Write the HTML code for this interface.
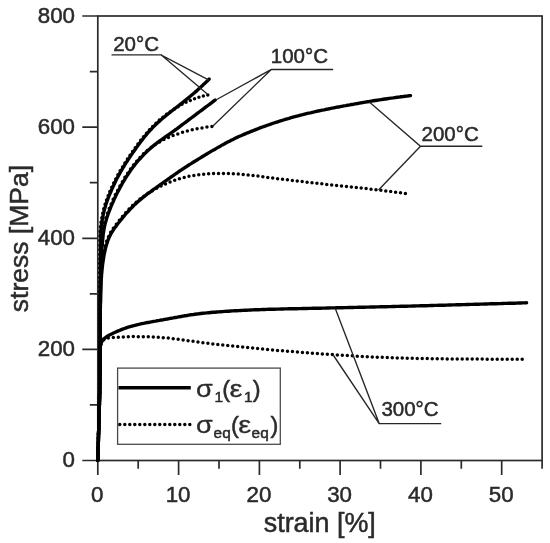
<!DOCTYPE html>
<html lang="en"><head><meta charset="utf-8"><title>Stress-strain curves</title>
<style>html,body{margin:0;padding:0;background:#fff}svg{display:block}</style></head>
<body>
<svg width="550" height="543" viewBox="0 0 550 543">
<defs><filter id="soft" x="0" y="0" width="550" height="543" filterUnits="userSpaceOnUse"><feGaussianBlur stdDeviation="0.45"/></filter></defs>
<rect width="550" height="543" fill="#fff"/>
<g filter="url(#soft)">
<rect width="550" height="543" fill="#fff"/>
<g fill="none" stroke="#2c2c2c" stroke-width="1.7">
<rect x="97.8" y="16.0" width="444.3" height="444.5"/>
<path d="M82.3 460.5h15.5M89.8 404.9h8.0M82.3 349.4h15.5M89.8 293.8h8.0M82.3 238.3h15.5M89.8 182.7h8.0M82.3 127.1h15.5M89.8 71.6h8.0M82.3 16.0h15.5M97.8 460.5v14.5M138.2 460.5v8.2M178.6 460.5v14.5M219.0 460.5v8.2M259.4 460.5v14.5M299.8 460.5v8.2M340.1 460.5v14.5M380.5 460.5v8.2M420.9 460.5v14.5M461.3 460.5v8.2M501.7 460.5v14.5M542.1 460.5v8.2"/>
</g>
<g fill="none" stroke="#050505" stroke-width="3.4" stroke-linecap="round" stroke-linejoin="round">
<path d="M97.8 460.4 L97.9 458.4 L97.9 456.4 L98.0 454.4 L98.0 452.4 L98.1 450.4 L98.1 448.4 L98.2 446.4 L98.3 444.4 L98.3 442.4 L98.4 440.4 L98.4 438.4 L98.5 436.4 L98.5 434.4 L98.6 432.4 L98.7 430.4 L98.7 428.4 L98.8 426.4 L98.8 424.4 L98.9 422.4 L98.9 420.4 L99.0 418.4 L99.0 416.4 L99.1 414.4 L99.2 412.4 L99.2 410.4 L99.3 408.4 L99.3 406.4 L99.4 404.4 L99.4 402.4 L99.5 400.4 L99.5 398.4 L99.6 396.4 L99.6 394.4 L99.7 392.4 L99.7 390.4 L99.7 388.4 L99.7 386.4 L99.8 384.4 L99.8 382.4 L99.8 380.4 L99.8 378.4 L99.9 376.4 L99.9 374.4 L99.9 372.4 L99.9 370.4 L100.0 368.4 L100.0 366.4 L100.0 364.4 L100.0 362.4 L100.0 360.4 L100.0 358.4 L100.1 356.4 L100.1 354.4 L100.1 352.4 L100.1 350.4 L100.1 348.4 L100.1 346.4 L100.1 344.4 L100.1 342.4 L100.2 340.4 L100.2 338.4 L100.2 336.3 L100.2 334.3 L100.2 332.3 L100.2 330.3 L100.2 328.3 L100.2 326.3 L100.2 324.3 L100.2 322.3 L100.2 320.3 L100.3 318.3 L100.3 316.3 L100.3 314.3 L100.3 312.3 L100.3 310.3 L100.3 308.3 L100.3 306.3 L100.3 304.3 L100.4 302.3 L100.4 300.3 L100.4 298.3 L100.4 296.3 L100.4 294.3 L100.4 292.3 L100.4 290.3 L100.5 288.3 L100.5 286.3 L100.5 284.3 L100.5 282.3 L100.5 280.3 L100.5 278.3 L100.6 276.3 L100.6 274.3 L100.6 272.3 L100.6 270.3 L100.6 268.3 L100.6 266.3 L100.6 264.3 L100.6 262.3 L100.7 260.3 L100.7 258.3 L100.7 256.3 L100.7 254.3 L100.7 252.3 L100.7 250.3 L100.7 248.3 L100.7 246.3 L100.7 244.3 L100.8 242.3 L100.8 240.3 L100.8 238.3 L100.8 236.3 L100.8 234.3 L100.9 232.3 L101.0 230.3 L101.1 228.3 L101.3 226.3 L101.5 224.3 L101.8 222.3 L102.2 220.4 L102.5 218.4 L102.9 216.4 L103.3 214.5 L103.7 212.5 L104.2 210.6 L104.7 208.6 L105.3 206.7 L105.8 204.8 L106.4 202.9 L107.1 201.0 L107.8 199.1 L108.5 197.2 L109.2 195.4 L110.0 193.5 L110.8 191.7 L111.6 189.9 L112.4 188.0 L113.2 186.2 L114.1 184.4 L115.0 182.6 L115.8 180.8 L116.7 179.0 L117.7 177.2 L118.6 175.5 L119.6 173.7 L120.5 172.0 L121.5 170.3 L122.5 168.5 L123.6 166.8 L124.6 165.1 L125.7 163.4 L126.8 161.7 L127.9 160.1 L129.0 158.4 L130.1 156.7 L131.2 155.1 L132.3 153.4 L133.5 151.8 L134.6 150.2 L135.8 148.5 L136.9 146.9 L138.1 145.3 L139.3 143.7 L140.5 142.1 L141.7 140.5 L142.9 138.9 L144.2 137.3 L145.4 135.8 L146.7 134.3 L148.0 132.7 L149.3 131.2 L150.7 129.8 L152.0 128.3 L153.4 126.9 L154.8 125.5 L156.3 124.1 L157.7 122.7 L159.2 121.4 L160.7 120.0 L162.2 118.7 L163.7 117.5 L165.2 116.2 L166.8 114.9 L168.4 113.7 L169.9 112.5 L171.5 111.2 L173.1 110.0 L174.7 108.8 L176.2 107.5 L177.8 106.3 L179.4 105.1 L180.9 103.8 L182.5 102.6 L184.1 101.3 L185.6 100.1 L187.2 98.8 L188.7 97.6 L190.3 96.3 L191.8 95.0 L193.3 93.7 L194.9 92.4 L196.4 91.1 L197.9 89.8 L199.3 88.4 L200.8 87.1 L202.3 85.7 L203.7 84.3 L205.2 83.0 L206.6 81.6 L208.1 80.2 L209.1 79.1"/>
<path d="M97.8 460.4 L97.9 458.4 L97.9 456.4 L98.0 454.4 L98.0 452.4 L98.1 450.4 L98.1 448.4 L98.2 446.4 L98.3 444.4 L98.3 442.4 L98.4 440.4 L98.4 438.4 L98.5 436.4 L98.5 434.4 L98.6 432.4 L98.7 430.4 L98.7 428.4 L98.8 426.4 L98.8 424.4 L98.9 422.4 L98.9 420.4 L99.0 418.4 L99.0 416.4 L99.1 414.4 L99.2 412.4 L99.2 410.4 L99.3 408.4 L99.3 406.4 L99.4 404.4 L99.4 402.4 L99.5 400.4 L99.5 398.4 L99.6 396.4 L99.6 394.4 L99.7 392.4 L99.7 390.4 L99.7 388.4 L99.7 386.4 L99.8 384.4 L99.8 382.4 L99.8 380.4 L99.8 378.4 L99.9 376.4 L99.9 374.4 L99.9 372.4 L99.9 370.4 L100.0 368.4 L100.0 366.4 L100.0 364.4 L100.0 362.4 L100.0 360.4 L100.0 358.4 L100.1 356.4 L100.1 354.4 L100.1 352.4 L100.1 350.4 L100.1 348.4 L100.1 346.4 L100.1 344.4 L100.1 342.4 L100.2 340.4 L100.2 338.4 L100.2 336.4 L100.2 334.4 L100.2 332.4 L100.2 330.4 L100.2 328.4 L100.2 326.4 L100.2 324.4 L100.2 322.4 L100.2 320.4 L100.2 318.4 L100.3 316.4 L100.3 314.4 L100.3 312.4 L100.3 310.4 L100.3 308.4 L100.3 306.4 L100.3 304.4 L100.4 302.4 L100.4 300.4 L100.4 298.4 L100.4 296.4 L100.4 294.4 L100.5 292.4 L100.5 290.4 L100.5 288.4 L100.5 286.4 L100.6 284.4 L100.6 282.4 L100.6 280.4 L100.6 278.4 L100.7 276.4 L100.7 274.4 L100.8 272.4 L100.8 270.4 L100.9 268.4 L100.9 266.4 L101.0 264.4 L101.1 262.4 L101.2 260.4 L101.3 258.4 L101.4 256.4 L101.5 254.4 L101.7 252.4 L101.8 250.4 L101.9 248.4 L102.1 246.5 L102.3 244.5 L102.4 242.5 L102.6 240.5 L102.8 238.5 L103.0 236.5 L103.2 234.5 L103.5 232.5 L103.8 230.5 L104.1 228.6 L104.5 226.6 L104.9 224.7 L105.4 222.7 L106.0 220.8 L106.5 218.9 L107.1 217.0 L107.8 215.1 L108.4 213.2 L109.1 211.3 L109.9 209.5 L110.6 207.6 L111.4 205.7 L112.2 203.9 L113.0 202.1 L113.8 200.2 L114.6 198.4 L115.5 196.6 L116.3 194.8 L117.2 193.0 L118.1 191.3 L119.1 189.5 L120.0 187.7 L121.0 186.0 L121.9 184.2 L122.9 182.5 L123.9 180.8 L124.9 179.1 L126.0 177.4 L127.1 175.7 L128.2 174.0 L129.3 172.3 L130.4 170.7 L131.6 169.1 L132.7 167.5 L134.0 165.9 L135.2 164.3 L136.4 162.8 L137.7 161.2 L139.0 159.7 L140.4 158.3 L141.7 156.8 L143.1 155.3 L144.5 153.9 L145.9 152.5 L147.4 151.1 L148.8 149.8 L150.3 148.5 L151.8 147.1 L153.3 145.9 L154.9 144.6 L156.5 143.4 L158.0 142.2 L159.6 141.0 L161.3 139.8 L162.9 138.7 L164.5 137.5 L166.1 136.4 L167.8 135.3 L169.4 134.1 L171.0 133.0 L172.6 131.8 L174.3 130.6 L175.9 129.5 L177.5 128.3 L179.1 127.1 L180.7 125.9 L182.3 124.7 L183.9 123.5 L185.5 122.3 L187.1 121.1 L188.7 119.9 L190.3 118.7 L191.9 117.5 L193.5 116.3 L195.1 115.1 L196.7 113.9 L198.3 112.7 L199.9 111.5 L201.5 110.3 L203.1 109.1 L204.7 107.9 L206.3 106.7 L207.9 105.5 L209.5 104.3 L211.1 103.1 L212.7 101.9 L214.3 100.7 L215.1 100.1"/>
<path d="M97.8 460.4 L97.9 458.4 L97.9 456.4 L98.0 454.4 L98.0 452.4 L98.1 450.4 L98.1 448.4 L98.2 446.4 L98.3 444.4 L98.3 442.4 L98.4 440.4 L98.4 438.4 L98.5 436.4 L98.5 434.4 L98.6 432.4 L98.7 430.4 L98.7 428.4 L98.8 426.4 L98.8 424.4 L98.9 422.4 L98.9 420.4 L99.0 418.4 L99.0 416.4 L99.1 414.4 L99.2 412.4 L99.2 410.4 L99.3 408.4 L99.3 406.4 L99.4 404.4 L99.4 402.4 L99.5 400.4 L99.5 398.4 L99.6 396.4 L99.6 394.4 L99.7 392.4 L99.7 390.4 L99.7 388.4 L99.7 386.4 L99.8 384.4 L99.8 382.4 L99.8 380.4 L99.8 378.4 L99.9 376.4 L99.9 374.4 L99.9 372.4 L99.9 370.4 L100.0 368.4 L100.0 366.4 L100.0 364.4 L100.0 362.4 L100.0 360.4 L100.0 358.4 L100.1 356.4 L100.1 354.4 L100.1 352.4 L100.1 350.4 L100.1 348.4 L100.1 346.4 L100.1 344.4 L100.1 342.4 L100.1 340.3 L100.2 338.3 L100.2 336.3 L100.2 334.3 L100.2 332.3 L100.2 330.3 L100.2 328.3 L100.2 326.3 L100.2 324.3 L100.2 322.3 L100.2 320.3 L100.2 318.3 L100.3 316.3 L100.3 314.3 L100.3 312.3 L100.3 310.3 L100.3 308.3 L100.4 306.3 L100.4 304.3 L100.4 302.3 L100.5 300.3 L100.5 298.3 L100.6 296.3 L100.6 294.3 L100.7 292.3 L100.8 290.3 L100.8 288.3 L100.9 286.3 L101.0 284.3 L101.1 282.3 L101.2 280.3 L101.3 278.3 L101.5 276.3 L101.6 274.3 L101.8 272.3 L102.0 270.3 L102.2 268.4 L102.4 266.4 L102.6 264.4 L102.9 262.4 L103.2 260.4 L103.5 258.4 L103.8 256.5 L104.2 254.5 L104.6 252.5 L105.0 250.6 L105.4 248.6 L105.9 246.7 L106.5 244.8 L107.1 242.9 L107.7 241.0 L108.4 239.1 L109.2 237.3 L110.1 235.4 L111.0 233.7 L112.0 232.0 L113.1 230.3 L114.2 228.6 L115.4 227.0 L116.6 225.4 L117.8 223.8 L119.0 222.3 L120.2 220.7 L121.5 219.1 L122.7 217.6 L124.0 216.1 L125.3 214.5 L126.6 213.0 L128.0 211.6 L129.3 210.1 L130.7 208.6 L132.1 207.2 L133.5 205.8 L134.9 204.4 L136.4 203.1 L137.9 201.7 L139.4 200.4 L140.9 199.1 L142.4 197.9 L144.0 196.6 L145.6 195.4 L147.1 194.2 L148.7 193.0 L150.4 191.8 L152.0 190.6 L153.6 189.4 L155.2 188.3 L156.9 187.1 L158.5 186.0 L160.1 184.8 L161.8 183.7 L163.4 182.5 L165.0 181.4 L166.7 180.2 L168.3 179.0 L169.9 177.9 L171.5 176.7 L173.2 175.6 L174.8 174.4 L176.4 173.3 L178.1 172.1 L179.7 171.0 L181.4 169.9 L183.1 168.8 L184.7 167.7 L186.4 166.6 L188.1 165.5 L189.8 164.4 L191.5 163.4 L193.2 162.3 L194.9 161.2 L196.6 160.2 L198.3 159.1 L200.0 158.1 L201.7 157.0 L203.4 156.0 L205.1 155.0 L206.8 154.0 L208.6 152.9 L210.3 151.9 L212.0 150.9 L213.7 149.9 L215.5 148.9 L217.2 147.9 L218.9 146.9 L220.7 145.9 L222.4 144.9 L224.2 144.0 L225.9 143.0 L227.7 142.1 L229.5 141.2 L231.2 140.3 L233.0 139.4 L234.8 138.5 L236.6 137.6 L238.4 136.8 L240.3 136.0 L242.1 135.2 L243.9 134.4 L245.8 133.6 L247.6 132.8 L249.5 132.1 L251.3 131.3 L253.2 130.6 L255.1 129.9 L256.9 129.2 L258.8 128.4 L260.7 127.7 L262.5 127.0 L264.4 126.3 L266.3 125.7 L268.2 125.0 L270.1 124.3 L272.0 123.7 L273.9 123.0 L275.8 122.4 L277.7 121.8 L279.6 121.2 L281.5 120.6 L283.4 120.0 L285.3 119.4 L287.2 118.8 L289.1 118.3 L291.1 117.7 L293.0 117.2 L294.9 116.7 L296.9 116.2 L298.8 115.7 L300.7 115.1 L302.7 114.7 L304.6 114.2 L306.5 113.7 L308.5 113.2 L310.4 112.8 L312.4 112.3 L314.3 111.9 L316.3 111.4 L318.2 111.0 L320.2 110.6 L322.2 110.2 L324.1 109.8 L326.1 109.3 L328.0 109.0 L330.0 108.6 L332.0 108.2 L333.9 107.8 L335.9 107.4 L337.9 107.0 L339.8 106.7 L341.8 106.3 L343.8 105.9 L345.7 105.6 L347.7 105.2 L349.7 104.9 L351.6 104.5 L353.6 104.2 L355.6 103.8 L357.6 103.5 L359.5 103.1 L361.5 102.8 L363.5 102.4 L365.4 102.1 L367.4 101.8 L369.4 101.5 L371.4 101.1 L373.3 100.8 L375.3 100.5 L377.3 100.2 L379.3 99.9 L381.3 99.6 L383.2 99.3 L385.2 99.0 L387.2 98.7 L389.2 98.4 L391.2 98.1 L393.1 97.9 L395.1 97.6 L397.1 97.3 L399.1 97.1 L401.1 96.8 L403.1 96.6 L405.0 96.3 L407.0 96.1 L409.0 95.8 L410.5 95.6"/>
<path d="M97.8 460.4 L97.9 458.4 L97.9 456.4 L98.0 454.4 L98.0 452.4 L98.1 450.4 L98.1 448.4 L98.2 446.4 L98.3 444.4 L98.3 442.4 L98.4 440.4 L98.4 438.4 L98.5 436.4 L98.5 434.4 L98.6 432.4 L98.7 430.4 L98.7 428.4 L98.8 426.4 L98.8 424.4 L98.9 422.4 L98.9 420.4 L99.0 418.4 L99.0 416.4 L99.1 414.4 L99.2 412.4 L99.2 410.4 L99.3 408.4 L99.3 406.4 L99.4 404.4 L99.4 402.4 L99.5 400.4 L99.5 398.4 L99.6 396.4 L99.6 394.4 L99.7 392.4 L99.7 390.4 L99.7 388.4 L99.7 386.4 L99.8 384.4 L99.8 382.4 L99.8 380.4 L99.8 378.4 L99.8 376.4 L99.8 374.4 L99.9 372.4 L99.9 370.4 L99.9 368.4 L99.9 366.4 L99.9 364.4 L99.9 362.4 L99.9 360.4 L100.0 358.4 L100.0 356.4 L100.0 354.4 L100.1 352.4 L100.1 350.4 L100.2 348.4 L100.4 346.4 L100.8 344.5 L101.3 342.6 L102.2 340.9 L103.3 339.4 L104.8 338.1 L106.4 336.9 L108.1 335.8 L109.9 334.8 L111.7 333.9 L113.5 333.0 L115.3 332.2 L117.1 331.4 L119.0 330.7 L120.8 329.9 L122.6 329.2 L124.5 328.5 L126.3 327.8 L128.2 327.2 L130.1 326.6 L132.0 326.1 L133.9 325.6 L135.9 325.1 L137.8 324.6 L139.8 324.2 L141.7 323.7 L143.7 323.3 L145.6 322.9 L147.6 322.5 L149.6 322.2 L151.5 321.8 L153.5 321.4 L155.5 321.1 L157.4 320.7 L159.4 320.4 L161.4 320.0 L163.3 319.7 L165.3 319.3 L167.3 319.0 L169.2 318.6 L171.2 318.2 L173.2 317.9 L175.1 317.5 L177.1 317.2 L179.1 316.8 L181.0 316.5 L183.0 316.1 L185.0 315.8 L187.0 315.5 L188.9 315.1 L190.9 314.8 L192.9 314.6 L194.9 314.3 L196.8 314.0 L198.8 313.8 L200.8 313.5 L202.8 313.3 L204.8 313.1 L206.8 312.9 L208.8 312.7 L210.8 312.5 L212.8 312.3 L214.7 312.2 L216.7 312.0 L218.7 311.9 L220.7 311.7 L222.7 311.6 L224.7 311.4 L226.7 311.3 L228.7 311.2 L230.7 311.0 L232.7 310.9 L234.7 310.8 L236.7 310.7 L238.7 310.6 L240.7 310.5 L242.7 310.4 L244.7 310.3 L246.7 310.2 L248.7 310.1 L250.7 310.0 L252.7 309.9 L254.7 309.8 L256.7 309.8 L258.7 309.7 L260.7 309.6 L262.7 309.5 L264.7 309.5 L266.7 309.4 L268.7 309.3 L270.7 309.3 L272.7 309.2 L274.7 309.2 L276.7 309.1 L278.7 309.1 L280.7 309.0 L282.7 309.0 L284.7 308.9 L286.7 308.9 L288.7 308.8 L290.7 308.8 L292.7 308.7 L294.7 308.7 L296.7 308.7 L298.7 308.6 L300.7 308.6 L302.7 308.5 L304.7 308.5 L306.7 308.5 L308.7 308.4 L310.7 308.4 L312.7 308.3 L314.7 308.3 L316.7 308.3 L318.7 308.2 L320.7 308.2 L322.7 308.1 L324.7 308.1 L326.7 308.0 L328.7 308.0 L330.7 307.9 L332.7 307.9 L334.7 307.9 L336.7 307.8 L338.7 307.8 L340.7 307.7 L342.7 307.7 L344.7 307.6 L346.7 307.6 L348.7 307.5 L350.7 307.5 L352.7 307.5 L354.7 307.4 L356.7 307.4 L358.7 307.3 L360.6 307.3 L362.6 307.2 L364.6 307.2 L366.6 307.1 L368.6 307.1 L370.6 307.0 L372.6 307.0 L374.6 307.0 L376.6 306.9 L378.6 306.9 L380.6 306.8 L382.6 306.8 L384.6 306.7 L386.6 306.7 L388.6 306.6 L390.6 306.6 L392.6 306.5 L394.6 306.5 L396.6 306.4 L398.6 306.4 L400.6 306.3 L402.6 306.3 L404.6 306.2 L406.6 306.2 L408.6 306.1 L410.6 306.1 L412.6 306.0 L414.6 306.0 L416.6 305.9 L418.6 305.9 L420.6 305.8 L422.6 305.8 L424.6 305.7 L426.6 305.7 L428.6 305.6 L430.6 305.5 L432.6 305.5 L434.6 305.4 L436.6 305.4 L438.6 305.3 L440.6 305.3 L442.6 305.2 L444.6 305.2 L446.6 305.1 L448.6 305.0 L450.6 305.0 L452.6 304.9 L454.6 304.9 L456.6 304.8 L458.6 304.8 L460.6 304.7 L462.6 304.6 L464.6 304.6 L466.6 304.5 L468.6 304.5 L470.6 304.4 L472.6 304.4 L474.6 304.3 L476.6 304.2 L478.6 304.2 L480.6 304.1 L482.6 304.1 L484.6 304.0 L486.6 304.0 L488.6 303.9 L490.6 303.8 L492.6 303.8 L494.6 303.7 L496.6 303.7 L498.6 303.6 L500.6 303.6 L502.6 303.5 L504.6 303.4 L506.6 303.4 L508.6 303.3 L510.6 303.3 L512.6 303.2 L514.6 303.2 L516.6 303.1 L518.6 303.0 L520.6 303.0 L522.6 302.9 L524.6 302.9 L526.6 302.8"/>
</g>
<g fill="none" stroke="#050505" stroke-width="3.5" stroke-linecap="round">
<path stroke-dasharray="0 4.60" d="M207.8 94.9 L206.8 95.1 L204.9 95.6 L202.9 96.1 L201.0 96.6 L199.1 97.2 L197.2 97.8 L195.3 98.4 L193.5 99.1 L191.6 99.8 L189.8 100.6 L188.0 101.4 L186.2 102.2 L184.4 103.1 L182.6 104.0 L180.9 105.0 L179.2 106.0 L177.5 107.0 L175.8 108.0 L174.1 109.1 L172.4 110.2 L170.8 111.3 L169.2 112.5 L167.5 113.6 L165.9 114.8 L164.4 116.0 L162.8 117.3 L161.3 118.5 L159.7 119.8 L158.2 121.1 L156.8 122.5 L155.3 123.8 L153.9 125.2 L152.5 126.6 L151.1 128.1 L149.7 129.5 L148.4 131.0 L147.1 132.5 L145.8 134.0 L144.5 135.6 L143.2 137.1 L142.0 138.7 L140.8 140.2 L139.6 141.8 L138.4 143.4 L137.2 145.1 L136.0 146.7 L134.9 148.3 L133.7 149.9 L132.6 151.6 L131.4 153.2 L130.3 154.9 L129.2 156.5 L128.0 158.2 L126.9 159.9 L125.8 161.5 L124.8 163.2 L123.7 164.9 L122.7 166.6 L121.6 168.3 L120.6 170.1 L119.6 171.8 L118.6 173.5 L117.7 175.3 L116.7 177.0 L115.8 178.8 L114.9 180.6 L114.0 182.4 L113.2 184.2 L112.3 186.0 L111.5 187.8 L110.6 189.7 L109.8 191.5 L109.1 193.3 L108.3 195.2 L107.6 197.1 L106.9 198.9 L106.2 200.8 L105.6 202.7 L105.0 204.6 L104.4 206.6 L103.8 208.5 L103.4 210.4 L102.9 212.4 L102.5 214.3 L102.1 216.3 L101.7 218.3 L101.3 220.2 L101.0 222.2 L100.7 224.2 L100.5 226.2 L100.3 228.2 L100.1 230.2 L100.1 232.1 L100.0 234.1 L100.0 236.1 L100.0 238.1 L100.0 240.1 L99.9 242.1 L99.9 244.1 L99.9 246.1 L99.9 248.1 L99.9 250.2 L99.9 252.2 L99.8 254.2 L99.8 256.2 L99.8 258.2 L99.8 260.2 L99.8 262.2 L99.8 264.2 L99.8 266.2 L99.8 268.2 L99.8 270.2 L99.8 272.2 L99.8 274.2 L99.8 276.2 L99.8 278.2 L99.8 280.2 L99.8 282.2 L99.8 284.2 L99.8 286.2 L99.8 288.2 L99.8 290.2 L99.8 292.2 L99.8 294.2 L99.8 296.2 L99.8 298.2 L99.8 300.2 L99.8 302.2 L99.8 304.2 L99.8 306.2 L99.8 308.2 L99.8 310.2 L99.8 312.3 L99.8 314.3 L99.8 316.3 L99.8 318.3 L99.8 320.3 L99.8 322.3 L99.9 324.3 L99.9 326.3 L99.9 328.3 L99.9 330.3 L100.0 332.3 L100.0 334.3 L100.0 336.3 L100.0 338.3 L100.0 340.3 L100.1 342.3 L100.1 344.3 L100.1 346.3 L100.1 348.3 L100.1 350.3 L100.1 352.3 L100.1 354.3 L100.1 356.3 L100.1 358.3 L100.1 360.3 L100.0 362.3 L100.0 364.3 L100.0 366.3 L100.0 368.3 L100.0 370.3 L99.9 372.3 L99.9 374.3 L99.9 376.3 L99.9 378.3 L99.8 380.3 L99.8 382.3 L99.8 384.3 L99.8 386.3 L99.7 388.3 L99.7 390.3 L99.7 392.3 L99.6 394.3 L99.6 396.3 L99.5 398.3 L99.5 400.4 L99.4 402.4 L99.4 404.4 L99.3 406.4 L99.3 408.4 L99.2 410.4 L99.2 412.4 L99.1 414.4 L99.0 416.4 L99.0 418.4 L98.9 420.4 L98.9 422.4 L98.8 424.4 L98.8 426.4 L98.7 428.4 L98.7 430.4 L98.6 432.4 L98.5 434.4 L98.5 436.4 L98.4 438.4 L98.4 440.4 L98.3 442.4 L98.3 444.4 L98.2 446.4 L98.1 448.4 L98.1 450.4 L98.0 452.4 L98.0 454.4 L97.9 456.4 L97.9 458.4 L97.8 460.4"/>
<path stroke-dasharray="0 5.00" d="M211.9 126.4 L210.9 126.5 L208.9 126.8 L207.0 127.1 L205.0 127.4 L203.0 127.7 L201.0 128.1 L199.1 128.4 L197.1 128.8 L195.2 129.2 L193.2 129.6 L191.3 130.1 L189.3 130.5 L187.4 131.0 L185.4 131.5 L183.5 132.1 L181.6 132.6 L179.7 133.2 L177.8 133.9 L175.9 134.5 L174.1 135.2 L172.2 135.9 L170.3 136.7 L168.5 137.4 L166.7 138.2 L164.9 139.1 L163.1 140.0 L161.4 140.9 L159.6 141.9 L157.9 142.9 L156.2 143.9 L154.6 145.0 L152.9 146.1 L151.3 147.3 L149.7 148.5 L148.2 149.7 L146.7 151.0 L145.2 152.4 L143.7 153.7 L142.3 155.1 L140.9 156.5 L139.5 158.0 L138.2 159.4 L136.9 160.9 L135.6 162.5 L134.3 164.0 L133.1 165.6 L131.9 167.2 L130.7 168.8 L129.5 170.4 L128.4 172.0 L127.3 173.7 L126.2 175.4 L125.1 177.0 L124.1 178.7 L123.1 180.5 L122.1 182.2 L121.1 183.9 L120.1 185.7 L119.1 187.4 L118.2 189.2 L117.3 191.0 L116.3 192.7 L115.5 194.5 L114.6 196.3 L113.7 198.1 L112.9 200.0 L112.1 201.8 L111.3 203.6 L110.5 205.5 L109.8 207.3 L109.0 209.2 L108.3 211.0 L107.6 212.9 L106.9 214.8 L106.3 216.7 L105.7 218.6 L105.1 220.5 L104.6 222.5 L104.1 224.4 L103.7 226.4 L103.3 228.3 L102.9 230.3 L102.7 232.3 L102.4 234.3 L102.2 236.3 L102.0 238.2 L101.8 240.2 L101.6 242.2 L101.4 244.2 L101.3 246.2 L101.1 248.2 L101.0 250.2 L100.8 252.2 L100.7 254.2 L100.6 256.2 L100.4 258.2 L100.3 260.2 L100.2 262.2 L100.2 264.2 L100.1 266.2 L100.0 268.2 L100.0 270.2 L100.0 272.2 L100.0 274.2 L99.9 276.2 L99.9 278.2 L99.9 280.2 L99.9 282.2 L99.9 284.2 L99.9 286.2 L99.8 288.2 L99.8 290.2 L99.8 292.2 L99.8 294.2 L99.8 296.3 L99.8 298.3 L99.8 300.3 L99.8 302.3 L99.8 304.3 L99.8 306.3 L99.8 308.3 L99.8 310.3 L99.8 312.3 L99.8 314.3 L99.8 316.3 L99.8 318.3 L99.8 320.3 L99.8 322.3 L99.9 324.3 L99.9 326.3 L99.9 328.3 L99.9 330.3 L100.0 332.3 L100.0 334.3 L100.0 336.3 L100.0 338.3 L100.0 340.3 L100.1 342.3 L100.1 344.3 L100.1 346.3 L100.1 348.3 L100.1 350.3 L100.1 352.3 L100.1 354.3 L100.1 356.3 L100.1 358.3 L100.1 360.3 L100.0 362.3 L100.0 364.3 L100.0 366.3 L100.0 368.3 L100.0 370.3 L99.9 372.3 L99.9 374.3 L99.9 376.3 L99.9 378.3 L99.8 380.3 L99.8 382.3 L99.8 384.3 L99.8 386.3 L99.7 388.3 L99.7 390.4 L99.7 392.4 L99.6 394.4 L99.6 396.4 L99.5 398.4 L99.5 400.4 L99.4 402.4 L99.4 404.4 L99.3 406.4 L99.3 408.4 L99.2 410.4 L99.2 412.4 L99.1 414.4 L99.0 416.4 L99.0 418.4 L98.9 420.4 L98.9 422.4 L98.8 424.4 L98.8 426.4 L98.7 428.4 L98.7 430.4 L98.6 432.4 L98.5 434.4 L98.5 436.4 L98.4 438.4 L98.4 440.4 L98.3 442.4 L98.3 444.4 L98.2 446.4 L98.1 448.4 L98.1 450.4 L98.0 452.4 L98.0 454.4 L97.9 456.4 L97.9 458.4 L97.8 460.4"/>
<path stroke-dasharray="0 4.95" d="M405.4 193.5 L404.9 193.4 L402.9 193.2 L400.9 192.9 L399.0 192.6 L397.0 192.4 L395.0 192.1 L393.0 191.8 L391.0 191.6 L389.0 191.3 L387.0 191.1 L385.1 190.8 L383.1 190.6 L381.1 190.3 L379.1 190.1 L377.1 189.8 L375.1 189.6 L373.1 189.4 L371.2 189.2 L369.2 188.9 L367.2 188.7 L365.2 188.5 L363.2 188.3 L361.2 188.1 L359.2 187.8 L357.2 187.6 L355.2 187.4 L353.2 187.2 L351.3 187.0 L349.3 186.8 L347.3 186.6 L345.3 186.4 L343.3 186.2 L341.3 186.0 L339.3 185.8 L337.3 185.5 L335.3 185.3 L333.3 185.1 L331.4 184.9 L329.4 184.7 L327.4 184.5 L325.4 184.3 L323.4 184.0 L321.4 183.8 L319.4 183.6 L317.4 183.4 L315.4 183.1 L313.5 182.9 L311.5 182.7 L309.5 182.4 L307.5 182.2 L305.5 182.0 L303.5 181.7 L301.5 181.5 L299.5 181.3 L297.5 181.0 L295.6 180.8 L293.6 180.6 L291.6 180.3 L289.6 180.1 L287.6 179.9 L285.6 179.6 L283.6 179.4 L281.6 179.2 L279.7 178.9 L277.7 178.7 L275.7 178.4 L273.7 178.2 L271.7 177.9 L269.7 177.7 L267.7 177.4 L265.8 177.2 L263.8 176.9 L261.8 176.7 L259.8 176.4 L257.8 176.1 L255.8 175.9 L253.8 175.6 L251.9 175.4 L249.9 175.2 L247.9 175.0 L245.9 174.8 L243.9 174.6 L241.9 174.4 L239.9 174.2 L237.9 174.1 L235.9 173.9 L233.9 173.8 L231.9 173.7 L229.9 173.6 L227.9 173.5 L225.9 173.4 L223.9 173.4 L222.0 173.4 L220.0 173.4 L218.0 173.4 L216.0 173.4 L214.0 173.5 L212.0 173.5 L210.0 173.6 L208.0 173.8 L206.0 173.9 L204.0 174.1 L202.0 174.3 L200.0 174.5 L198.1 174.8 L196.1 175.1 L194.1 175.4 L192.1 175.8 L190.2 176.1 L188.2 176.5 L186.3 177.0 L184.4 177.5 L182.4 178.0 L180.5 178.5 L178.6 179.0 L176.7 179.6 L174.8 180.3 L172.9 180.9 L171.1 181.6 L169.2 182.4 L167.4 183.1 L165.5 183.9 L163.7 184.7 L161.9 185.6 L160.2 186.5 L158.4 187.4 L156.6 188.4 L154.9 189.3 L153.2 190.3 L151.4 191.3 L149.7 192.4 L148.0 193.4 L146.4 194.5 L144.7 195.6 L143.1 196.8 L141.5 198.0 L139.9 199.2 L138.4 200.4 L136.9 201.7 L135.4 203.0 L133.9 204.3 L132.5 205.7 L131.0 207.1 L129.6 208.5 L128.3 210.0 L126.9 211.4 L125.6 212.9 L124.3 214.4 L123.0 215.9 L121.7 217.5 L120.4 219.0 L119.2 220.6 L118.0 222.2 L116.7 223.7 L115.5 225.3 L114.3 226.9 L113.1 228.5 L112.0 230.2 L110.9 231.9 L110.0 233.6 L109.1 235.4 L108.2 237.2 L107.5 239.0 L106.8 240.9 L106.1 242.8 L105.6 244.7 L105.0 246.7 L104.5 248.6 L104.1 250.5 L103.7 252.5 L103.3 254.5 L103.0 256.4 L102.6 258.4 L102.3 260.4 L102.1 262.4 L101.8 264.4 L101.6 266.4 L101.3 268.3 L101.1 270.3 L100.9 272.3 L100.8 274.3 L100.6 276.3 L100.5 278.3 L100.4 280.3 L100.3 282.3 L100.2 284.3 L100.2 286.3 L100.1 288.3 L100.1 290.3 L100.0 292.3 L100.0 294.3 L99.9 296.3 L99.9 298.3 L99.8 300.3 L99.8 302.3 L99.8 304.3 L99.8 306.3 L99.8 308.3 L99.8 310.3 L99.8 312.3 L99.8 314.3 L99.8 316.3 L99.8 318.3 L99.8 320.3 L99.8 322.3 L99.9 324.3 L99.9 326.3 L99.9 328.3 L99.9 330.3 L100.0 332.3 L100.0 334.3 L100.0 336.3 L100.0 338.3 L100.0 340.3 L100.1 342.3 L100.1 344.3 L100.1 346.3 L100.1 348.4 L100.1 350.4 L100.1 352.4 L100.1 354.4 L100.1 356.4 L100.1 358.4 L100.1 360.4 L100.0 362.4 L100.0 364.4 L100.0 366.4 L100.0 368.4 L100.0 370.4 L99.9 372.4 L99.9 374.4 L99.9 376.4 L99.9 378.4 L99.8 380.4 L99.8 382.4 L99.8 384.4 L99.8 386.4 L99.7 388.4 L99.7 390.4 L99.7 392.4 L99.6 394.4 L99.6 396.4 L99.5 398.4 L99.5 400.4 L99.4 402.4 L99.4 404.4 L99.3 406.4 L99.3 408.4 L99.2 410.4 L99.2 412.4 L99.1 414.4 L99.0 416.4 L99.0 418.4 L98.9 420.4 L98.9 422.4 L98.8 424.4 L98.8 426.4 L98.7 428.4 L98.7 430.4 L98.6 432.4 L98.5 434.4 L98.5 436.4 L98.4 438.4 L98.4 440.4 L98.3 442.4 L98.3 444.4 L98.2 446.4 L98.1 448.4 L98.1 450.4 L98.0 452.4 L98.0 454.4 L97.9 456.4 L97.9 458.4 L97.8 460.4"/>
<path stroke-dasharray="0 5.00" d="M522.2 359.3 L520.7 359.3 L518.7 359.3 L516.7 359.3 L514.7 359.3 L512.7 359.3 L510.7 359.3 L508.7 359.3 L506.7 359.3 L504.7 359.3 L502.7 359.3 L500.7 359.2 L498.7 359.2 L496.7 359.2 L494.7 359.2 L492.7 359.2 L490.7 359.2 L488.7 359.2 L486.7 359.2 L484.7 359.2 L482.7 359.1 L480.7 359.1 L478.7 359.1 L476.7 359.1 L474.7 359.1 L472.7 359.1 L470.7 359.1 L468.7 359.0 L466.7 359.0 L464.7 359.0 L462.6 359.0 L460.6 359.0 L458.6 359.0 L456.6 359.0 L454.6 358.9 L452.6 358.9 L450.6 358.9 L448.6 358.9 L446.6 358.9 L444.6 358.8 L442.6 358.8 L440.6 358.8 L438.6 358.8 L436.6 358.7 L434.6 358.7 L432.6 358.7 L430.6 358.7 L428.6 358.6 L426.6 358.6 L424.6 358.6 L422.6 358.5 L420.6 358.5 L418.6 358.4 L416.6 358.4 L414.6 358.4 L412.6 358.3 L410.6 358.3 L408.6 358.2 L406.6 358.2 L404.6 358.1 L402.6 358.1 L400.6 358.0 L398.6 357.9 L396.6 357.9 L394.6 357.8 L392.6 357.7 L390.6 357.7 L388.6 357.6 L386.6 357.5 L384.6 357.4 L382.6 357.3 L380.6 357.3 L378.6 357.2 L376.6 357.1 L374.6 357.0 L372.6 356.9 L370.6 356.8 L368.6 356.7 L366.6 356.6 L364.6 356.5 L362.6 356.4 L360.6 356.3 L358.6 356.2 L356.6 356.1 L354.6 356.0 L352.6 355.9 L350.6 355.7 L348.6 355.6 L346.6 355.5 L344.6 355.4 L342.6 355.3 L340.6 355.1 L338.6 355.0 L336.6 354.9 L334.6 354.7 L332.6 354.6 L330.6 354.5 L328.6 354.3 L326.6 354.2 L324.6 354.1 L322.6 353.9 L320.7 353.8 L318.7 353.6 L316.7 353.5 L314.7 353.3 L312.7 353.2 L310.7 353.0 L308.7 352.9 L306.7 352.7 L304.7 352.6 L302.7 352.4 L300.7 352.3 L298.7 352.1 L296.7 352.0 L294.7 351.8 L292.7 351.6 L290.7 351.5 L288.7 351.3 L286.7 351.2 L284.7 351.0 L282.7 350.8 L280.7 350.7 L278.7 350.5 L276.7 350.3 L274.8 350.1 L272.8 350.0 L270.8 349.8 L268.8 349.6 L266.8 349.4 L264.8 349.2 L262.8 349.0 L260.8 348.8 L258.8 348.7 L256.8 348.5 L254.8 348.3 L252.8 348.1 L250.8 347.9 L248.8 347.7 L246.9 347.5 L244.9 347.3 L242.9 347.1 L240.9 346.9 L238.9 346.7 L236.9 346.5 L234.9 346.3 L232.9 346.1 L230.9 345.9 L228.9 345.7 L226.9 345.5 L225.0 345.2 L223.0 345.0 L221.0 344.8 L219.0 344.6 L217.0 344.4 L215.0 344.1 L213.0 343.9 L211.0 343.7 L209.0 343.4 L207.1 343.2 L205.1 342.9 L203.1 342.7 L201.1 342.4 L199.1 342.1 L197.1 341.9 L195.2 341.6 L193.2 341.3 L191.2 341.0 L189.2 340.8 L187.2 340.5 L185.2 340.2 L183.3 339.9 L181.3 339.7 L179.3 339.4 L177.3 339.1 L175.3 338.9 L173.3 338.7 L171.3 338.4 L169.4 338.2 L167.4 338.0 L165.4 337.9 L163.4 337.7 L161.4 337.6 L159.4 337.4 L157.4 337.3 L155.4 337.2 L153.4 337.1 L151.4 337.0 L149.4 336.9 L147.4 336.8 L145.4 336.8 L143.4 336.7 L141.4 336.7 L139.4 336.7 L137.4 336.6 L135.4 336.6 L133.4 336.6 L131.4 336.6 L129.4 336.7 L127.4 336.7 L125.4 336.8 L123.5 336.9 L121.5 337.1 L119.6 337.3 L117.6 337.4 L115.7 337.5 L113.7 337.6 L111.6 337.7 L109.5 337.8 L107.5 338.0 L105.6 338.7 L104.0 339.6 L102.7 341.0 L101.6 342.6 L100.9 344.4 L100.4 346.3 L100.2 348.3 L100.1 350.3 L100.1 352.3 L100.0 354.3 L100.0 356.3 L100.0 358.3 L100.0 360.3 L99.9 362.3 L99.9 364.3 L99.9 366.3 L99.9 368.3 L99.9 370.3 L99.9 372.3 L99.8 374.3 L99.8 376.4 L99.8 378.4 L99.8 380.4 L99.8 382.4 L99.8 384.4 L99.7 386.4 L99.7 388.4 L99.7 390.4 L99.7 392.4 L99.6 394.4 L99.6 396.4 L99.5 398.4 L99.5 400.4 L99.4 402.4 L99.4 404.4 L99.3 406.4 L99.3 408.4 L99.2 410.4 L99.2 412.4 L99.1 414.4 L99.0 416.4 L99.0 418.4 L98.9 420.4 L98.9 422.4 L98.8 424.4 L98.8 426.4 L98.7 428.4 L98.7 430.4 L98.6 432.4 L98.5 434.4 L98.5 436.4 L98.4 438.4 L98.4 440.4 L98.3 442.4 L98.3 444.4 L98.2 446.4 L98.1 448.4 L98.1 450.4 L98.0 452.4 L98.0 454.4 L97.9 456.4 L97.9 458.4 L97.8 460.4"/>
</g>
<g fill="none" stroke="#262626" stroke-width="1.35">
<path d="M111.5 54.8H161L208.5 79.8M161 54.8L207 93.8"/>
<path d="M333.1 69.5H271.3L215.8 100M271.3 69.5L212.7 126.2"/>
<path d="M482.3 146.2H420.5L369.6 102.3M420.5 146.2L378.5 190"/>
<path d="M441.2 423.6H379.2L335.4 308.8M379.2 423.6L333.5 355.5"/>
</g>
<rect x="117.6" y="368.1" width="162.7" height="76.2" fill="#fff" stroke="#4a4a4a" stroke-width="1.3"/>
<path d="M118.5 387.7H190.8" stroke="#050505" stroke-width="3.4" fill="none"/>
<path d="M119.8 424.6H190.5" stroke="#050505" stroke-width="3.5" stroke-linecap="round" stroke-dasharray="0 5" fill="none"/>
<g font-family="'Liberation Sans', sans-serif" fill="#2a2a2a" stroke="#2a2a2a" stroke-width="0.5">
<text transform="translate(196.0 397.1) scale(1.17 1)" font-size="23.2" stroke-width="0.3">σ</text>
<text x="214.6" y="402.1" font-size="15.4">1</text>
<text x="222.3" y="397.1" font-size="23.6">(</text>
<text transform="translate(229.4 397.1) scale(1.25 1)" font-size="23.2" stroke-width="0.3">ε</text>
<text x="243.9" y="402.1" font-size="15.4">1</text>
<text x="252.8" y="397.1" font-size="23.6">)</text>
<text transform="translate(196.0 433.3) scale(1.17 1)" font-size="23.2" stroke-width="0.3">σ</text>
<text x="213.6" y="438.2" font-size="15.4">eq</text>
<text x="230.9" y="433.3" font-size="23.6">(</text>
<text transform="translate(238.2 433.3) scale(1.25 1)" font-size="23.2" stroke-width="0.3">ε</text>
<text x="251.6" y="438.2" font-size="15.4">eq</text>
<text x="270.6" y="433.3" font-size="23.6">)</text>
<text x="75" y="467.4" font-size="22.3" text-anchor="end">0</text>
<text x="75" y="356.3" font-size="22.3" text-anchor="end">200</text>
<text x="75" y="245.2" font-size="22.3" text-anchor="end">400</text>
<text x="75" y="134.0" font-size="22.3" text-anchor="end">600</text>
<text x="75" y="22.9" font-size="22.3" text-anchor="end">800</text>
<text x="97.3" y="501.9" font-size="22.3" text-anchor="middle">0</text>
<text x="178.1" y="501.9" font-size="22.3" text-anchor="middle">10</text>
<text x="258.9" y="501.9" font-size="22.3" text-anchor="middle">20</text>
<text x="339.6" y="501.9" font-size="22.3" text-anchor="middle">30</text>
<text x="420.4" y="501.9" font-size="22.3" text-anchor="middle">40</text>
<text x="501.2" y="501.9" font-size="22.3" text-anchor="middle">50</text>
<text x="319.8" y="531.7" font-size="26.9" text-anchor="middle">strain [%]</text>
<text transform="translate(27.9 238.6) rotate(-90)" font-size="26.5" text-anchor="middle">stress [MPa]</text>
<text x="113.2" y="50.5" font-size="20.5">20°C</text>
<text x="270.8" y="63.4" font-size="20.5">100°C</text>
<text x="421.5" y="140.5" font-size="20.5">200°C</text>
<text x="381.4" y="416" font-size="20.5">300°C</text>
</g>
</g>
</svg>
</body></html>
